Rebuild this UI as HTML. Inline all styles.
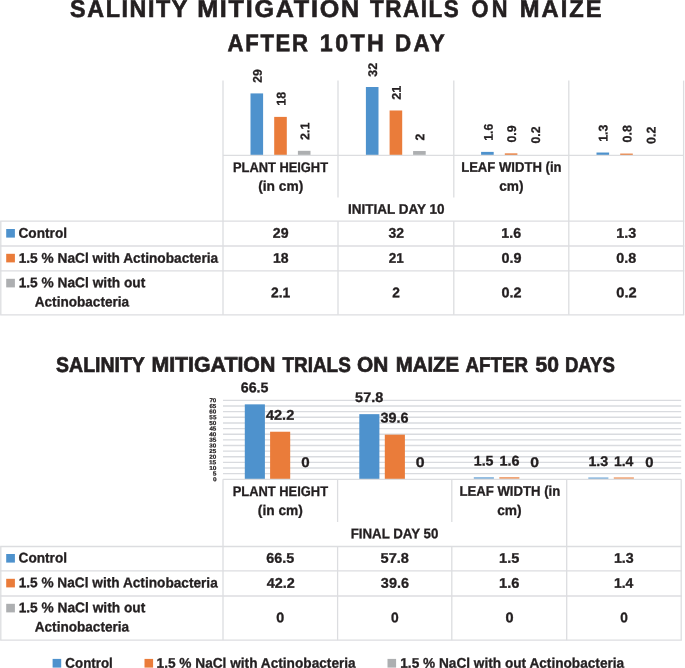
<!DOCTYPE html>
<html lang="en">
<head>
<meta charset="utf-8">
<title>Salinity mitigation trials on maize</title>
<style>
html,body{margin:0;padding:0;background:#fff;}
body{width:685px;height:668px;overflow:hidden;}
svg{display:block;}
svg text{font-family:'Liberation Sans', sans-serif;font-weight:bold;fill:#231f20;stroke:#231f20;}
</style>
</head>
<body>
<svg width="685" height="668" viewBox="0 0 685 668">
<rect width="685" height="668" fill="#ffffff"/>
<line x1="223.0" y1="80.61000000000001" x2="223.0" y2="314.8" stroke="#dcdde0" stroke-width="1.3"/>
<line x1="338.0" y1="80.61000000000001" x2="338.0" y2="197.4" stroke="#dcdde0" stroke-width="1.3"/>
<line x1="338.0" y1="221.2" x2="338.0" y2="314.8" stroke="#dcdde0" stroke-width="1.3"/>
<line x1="453.8" y1="80.61000000000001" x2="453.8" y2="197.4" stroke="#dcdde0" stroke-width="1.3"/>
<line x1="453.8" y1="221.2" x2="453.8" y2="314.8" stroke="#dcdde0" stroke-width="1.3"/>
<line x1="568.8" y1="80.61000000000001" x2="568.8" y2="314.8" stroke="#dcdde0" stroke-width="1.3"/>
<line x1="683.6" y1="80.61000000000001" x2="683.6" y2="314.8" stroke="#dcdde0" stroke-width="1.3"/>
<line x1="0.8" y1="221.2" x2="0.8" y2="314.8" stroke="#dcdde0" stroke-width="1.3"/>
<line x1="0.15" y1="221.2" x2="684.25" y2="221.2" stroke="#dcdde0" stroke-width="1.3"/>
<line x1="0.15" y1="246.0" x2="684.25" y2="246.0" stroke="#dcdde0" stroke-width="1.3"/>
<line x1="0.15" y1="270.9" x2="684.25" y2="270.9" stroke="#dcdde0" stroke-width="1.3"/>
<line x1="0.15" y1="314.8" x2="684.25" y2="314.8" stroke="#dcdde0" stroke-width="1.3"/>
<rect x="250.50" y="93.41" width="12.60" height="61.89" fill="#4e92cd"/>
<rect x="274.20" y="116.89" width="12.60" height="38.41" fill="#ea7c3a"/>
<rect x="297.90" y="150.82" width="12.60" height="4.48" fill="#adafb1"/>
<rect x="365.90" y="87.01" width="12.60" height="68.29" fill="#4e92cd"/>
<rect x="389.60" y="110.49" width="12.60" height="44.81" fill="#ea7c3a"/>
<rect x="413.10" y="151.03" width="12.60" height="4.27" fill="#adafb1"/>
<rect x="481.10" y="151.89" width="12.60" height="3.41" fill="#4e92cd"/>
<rect x="504.80" y="153.38" width="12.60" height="1.92" fill="#ea7c3a"/>
<rect x="596.50" y="152.53" width="12.60" height="2.77" fill="#4e92cd"/>
<rect x="620.20" y="153.59" width="12.60" height="1.71" fill="#ea7c3a"/>
<line x1="223.0" y1="155.3" x2="683.6" y2="155.3" stroke="#dcdde0" stroke-width="1.3"/>
<rect x="6.20" y="229.00" width="8.70" height="8.60" fill="#4e92cd"/>
<rect x="6.20" y="253.80" width="8.70" height="8.60" fill="#ea7c3a"/>
<rect x="6.20" y="278.80" width="8.70" height="8.60" fill="#adafb1"/>
<line x1="223.0" y1="473.66" x2="681.2" y2="473.66" stroke="#d9dbdf" stroke-width="1.4"/>
<line x1="223.0" y1="468.03" x2="681.2" y2="468.03" stroke="#d9dbdf" stroke-width="1.4"/>
<line x1="223.0" y1="462.39" x2="681.2" y2="462.39" stroke="#d9dbdf" stroke-width="1.4"/>
<line x1="223.0" y1="456.76" x2="681.2" y2="456.76" stroke="#d9dbdf" stroke-width="1.4"/>
<line x1="223.0" y1="451.12" x2="681.2" y2="451.12" stroke="#d9dbdf" stroke-width="1.4"/>
<line x1="223.0" y1="445.49" x2="681.2" y2="445.49" stroke="#d9dbdf" stroke-width="1.4"/>
<line x1="223.0" y1="439.85" x2="681.2" y2="439.85" stroke="#d9dbdf" stroke-width="1.4"/>
<line x1="223.0" y1="434.21" x2="681.2" y2="434.21" stroke="#d9dbdf" stroke-width="1.4"/>
<line x1="223.0" y1="428.58" x2="681.2" y2="428.58" stroke="#d9dbdf" stroke-width="1.4"/>
<line x1="223.0" y1="422.94" x2="681.2" y2="422.94" stroke="#d9dbdf" stroke-width="1.4"/>
<line x1="223.0" y1="417.31" x2="681.2" y2="417.31" stroke="#d9dbdf" stroke-width="1.4"/>
<line x1="223.0" y1="411.67" x2="681.2" y2="411.67" stroke="#d9dbdf" stroke-width="1.4"/>
<line x1="223.0" y1="406.04" x2="681.2" y2="406.04" stroke="#d9dbdf" stroke-width="1.4"/>
<line x1="223.0" y1="400.40" x2="681.2" y2="400.40" stroke="#d9dbdf" stroke-width="1.4"/>
<line x1="223.0" y1="479.3" x2="223.0" y2="640.2" stroke="#dcdde0" stroke-width="1.3"/>
<line x1="337.6" y1="479.3" x2="337.6" y2="522.0" stroke="#dcdde0" stroke-width="1.3"/>
<line x1="337.6" y1="546.5" x2="337.6" y2="640.2" stroke="#dcdde0" stroke-width="1.3"/>
<line x1="451.8" y1="479.3" x2="451.8" y2="522.0" stroke="#dcdde0" stroke-width="1.3"/>
<line x1="451.8" y1="546.5" x2="451.8" y2="640.2" stroke="#dcdde0" stroke-width="1.3"/>
<line x1="566.7" y1="479.3" x2="566.7" y2="640.2" stroke="#dcdde0" stroke-width="1.3"/>
<line x1="681.2" y1="479.3" x2="681.2" y2="640.2" stroke="#dcdde0" stroke-width="1.3"/>
<line x1="0.8" y1="546.5" x2="0.8" y2="640.2" stroke="#dcdde0" stroke-width="1.3"/>
<line x1="0.15" y1="546.5" x2="681.85" y2="546.5" stroke="#dcdde0" stroke-width="1.3"/>
<line x1="0.15" y1="570.9" x2="681.85" y2="570.9" stroke="#dcdde0" stroke-width="1.3"/>
<line x1="0.15" y1="596.0" x2="681.85" y2="596.0" stroke="#dcdde0" stroke-width="1.3"/>
<line x1="0.15" y1="640.2" x2="681.85" y2="640.2" stroke="#dcdde0" stroke-width="1.3"/>
<rect x="244.80" y="404.35" width="20.10" height="74.95" fill="#4e92cd"/>
<rect x="270.10" y="431.73" width="20.10" height="47.57" fill="#ea7c3a"/>
<rect x="359.30" y="414.15" width="20.10" height="65.15" fill="#4e92cd"/>
<rect x="384.80" y="434.67" width="20.10" height="44.63" fill="#ea7c3a"/>
<rect x="473.80" y="477.21" width="20.10" height="1.69" fill="#4e92cd" fill-opacity="0.75"/>
<rect x="499.30" y="477.10" width="20.10" height="1.80" fill="#ea7c3a" fill-opacity="0.75"/>
<rect x="588.30" y="477.43" width="20.10" height="1.47" fill="#4e92cd" fill-opacity="0.75"/>
<rect x="613.80" y="477.32" width="20.10" height="1.58" fill="#ea7c3a" fill-opacity="0.75"/>
<line x1="223.0" y1="479.3" x2="681.2" y2="479.3" stroke="#dcdde0" stroke-width="1.3"/>
<rect x="6.20" y="554.00" width="8.70" height="8.60" fill="#4e92cd"/>
<rect x="6.20" y="578.80" width="8.70" height="8.60" fill="#ea7c3a"/>
<rect x="6.20" y="603.80" width="8.70" height="8.60" fill="#adafb1"/>
<rect x="52.60" y="658.90" width="8.60" height="8.70" fill="#4e92cd"/>
<rect x="144.50" y="658.90" width="8.60" height="8.70" fill="#ea7c3a"/>
<rect x="387.50" y="658.90" width="8.60" height="8.70" fill="#adafb1"/>
<text transform="translate(70.12,16.90) rotate(0.03) scale(0.955,1)" stroke-width="0.63" font-size="24.4" textLength="122.74" lengthAdjust="spacing">SALINITY</text>
<text transform="translate(197.14,16.90) rotate(0.03) scale(1.03,1)" stroke-width="0.63" font-size="24.4" textLength="157.30" lengthAdjust="spacing">MITIGATION</text>
<text transform="translate(369.93,16.90) rotate(0.03) scale(0.919,1)" stroke-width="0.63" font-size="24.4" textLength="96.73" lengthAdjust="spacing">TRAILS</text>
<text transform="translate(471.48,16.90) rotate(0.03) scale(0.893,1)" stroke-width="0.63" font-size="24.4" textLength="40.39" lengthAdjust="spacing">ON</text>
<text transform="translate(519.86,16.90) rotate(0.03) scale(0.972,1)" stroke-width="0.63" font-size="24.4" textLength="84.17" lengthAdjust="spacing">MAIZE</text>
<text transform="translate(227.54,51.30) rotate(0.03) scale(0.907,1)" stroke-width="0.63" font-size="24.4" textLength="88.78" lengthAdjust="spacing">AFTER</text>
<text transform="translate(319.85,51.30) rotate(0.03) scale(0.955,1)" stroke-width="0.63" font-size="24.4" textLength="66.96" lengthAdjust="spacing">10TH</text>
<text transform="translate(395.02,51.30) rotate(0.03) scale(0.921,1)" stroke-width="0.63" font-size="24.4" textLength="54.04" lengthAdjust="spacing">DAY</text>
<text transform="translate(261.66,82.65) rotate(-89.97)" stroke-width="0.28" font-size="12.6" textLength="13.38" lengthAdjust="spacingAndGlyphs">29</text>
<text transform="translate(285.44,105.69) rotate(-89.97)" stroke-width="0.28" font-size="12.6" textLength="13.91" lengthAdjust="spacingAndGlyphs">18</text>
<text transform="translate(309.30,139.89) rotate(-89.97)" stroke-width="0.28" font-size="12.6" textLength="17.32" lengthAdjust="spacingAndGlyphs">2.1</text>
<text transform="translate(376.89,76.64) rotate(-89.97)" stroke-width="0.28" font-size="12.6" textLength="13.77" lengthAdjust="spacingAndGlyphs">32</text>
<text transform="translate(400.64,99.66) rotate(-89.97)" stroke-width="0.28" font-size="12.6" textLength="14.02" lengthAdjust="spacingAndGlyphs">21</text>
<text transform="translate(424.28,140.57) rotate(-89.97)" stroke-width="0.28" font-size="12.6" textLength="6.79" lengthAdjust="spacingAndGlyphs">2</text>
<text transform="translate(492.70,140.69) rotate(-89.97)" stroke-width="0.28" font-size="12.6" textLength="16.94" lengthAdjust="spacingAndGlyphs">1.6</text>
<text transform="translate(516.11,142.51) rotate(-89.97)" stroke-width="0.28" font-size="12.6" textLength="17.10" lengthAdjust="spacingAndGlyphs">0.9</text>
<text transform="translate(540.06,143.55) rotate(-89.97)" stroke-width="0.28" font-size="12.6" textLength="17.05" lengthAdjust="spacingAndGlyphs">0.2</text>
<text transform="translate(607.60,141.72) rotate(-89.97)" stroke-width="0.28" font-size="12.6" textLength="17.09" lengthAdjust="spacingAndGlyphs">1.3</text>
<text transform="translate(631.61,142.51) rotate(-89.97)" stroke-width="0.28" font-size="12.6" textLength="17.47" lengthAdjust="spacingAndGlyphs">0.8</text>
<text transform="translate(655.43,143.97) rotate(-89.97)" stroke-width="0.28" font-size="12.6" textLength="17.27" lengthAdjust="spacingAndGlyphs">0.2</text>
<text transform="translate(232.95,171.70) rotate(0.03)" stroke-width="0.31" font-size="14.0" textLength="95.05" lengthAdjust="spacingAndGlyphs">PLANT HEIGHT</text>
<text transform="translate(258.20,190.70) rotate(0.03)" stroke-width="0.31" font-size="14.0" textLength="45.12" lengthAdjust="spacingAndGlyphs">(in cm)</text>
<text transform="translate(461.13,171.70) rotate(0.03)" stroke-width="0.31" font-size="14.0" textLength="100.39" lengthAdjust="spacingAndGlyphs">LEAF WIDTH (in</text>
<text transform="translate(499.15,190.70) rotate(0.03)" stroke-width="0.31" font-size="14.0" textLength="24.32" lengthAdjust="spacingAndGlyphs">cm)</text>
<text transform="translate(347.92,213.80) rotate(0.03)" stroke-width="0.31" font-size="14.0" textLength="96.50" lengthAdjust="spacingAndGlyphs">INITIAL DAY 10</text>
<text transform="translate(18.51,237.80) rotate(0.03)" stroke-width="0.31" font-size="14.0" textLength="48.52" lengthAdjust="spacingAndGlyphs">Control</text>
<text transform="translate(18.70,262.70) rotate(0.03)" stroke-width="0.31" font-size="14.0" textLength="199.52" lengthAdjust="spacingAndGlyphs">1.5 % NaCl with Actinobacteria</text>
<text transform="translate(18.67,287.20) rotate(0.03)" stroke-width="0.31" font-size="14.0" textLength="126.56" lengthAdjust="spacingAndGlyphs">1.5 % NaCl with out</text>
<text transform="translate(34.77,306.50) rotate(0.03)" stroke-width="0.31" font-size="14.0" textLength="94.29" lengthAdjust="spacingAndGlyphs">Actinobacteria</text>
<text transform="translate(272.86,237.80) rotate(0.03)" stroke-width="0.31" font-size="14.0" textLength="15.73" lengthAdjust="spacingAndGlyphs">29</text>
<text transform="translate(388.54,237.80) rotate(0.03)" stroke-width="0.31" font-size="14.0" textLength="15.50" lengthAdjust="spacingAndGlyphs">32</text>
<text transform="translate(501.32,237.80) rotate(0.03)" stroke-width="0.31" font-size="14.0" textLength="19.77" lengthAdjust="spacingAndGlyphs">1.6</text>
<text transform="translate(616.36,237.80) rotate(0.03)" stroke-width="0.31" font-size="14.0" textLength="19.98" lengthAdjust="spacingAndGlyphs">1.3</text>
<text transform="translate(272.88,262.80) rotate(0.03)" stroke-width="0.31" font-size="14.0" textLength="15.62" lengthAdjust="spacingAndGlyphs">18</text>
<text transform="translate(388.68,262.80) rotate(0.03)" stroke-width="0.31" font-size="14.0" textLength="15.05" lengthAdjust="spacingAndGlyphs">21</text>
<text transform="translate(501.40,262.80) rotate(0.03)" stroke-width="0.31" font-size="14.0" textLength="20.02" lengthAdjust="spacingAndGlyphs">0.9</text>
<text transform="translate(616.31,262.80) rotate(0.03)" stroke-width="0.31" font-size="14.0" textLength="19.97" lengthAdjust="spacingAndGlyphs">0.8</text>
<text transform="translate(271.02,297.20) rotate(0.03)" stroke-width="0.31" font-size="14.0" textLength="19.32" lengthAdjust="spacingAndGlyphs">2.1</text>
<text transform="translate(392.28,297.20) rotate(0.03)" stroke-width="0.31" font-size="14.0" textLength="7.64" lengthAdjust="spacingAndGlyphs">2</text>
<text transform="translate(501.40,297.20) rotate(0.03)" stroke-width="0.31" font-size="14.0" textLength="20.03" lengthAdjust="spacingAndGlyphs">0.2</text>
<text transform="translate(616.32,297.20) rotate(0.03)" stroke-width="0.31" font-size="14.0" textLength="20.41" lengthAdjust="spacingAndGlyphs">0.2</text>
<text transform="translate(56.08,371.80) rotate(0.03)" stroke-width="0.68" font-size="21.2" textLength="88.74" lengthAdjust="spacingAndGlyphs">SALINITY</text>
<text transform="translate(151.43,371.80) rotate(0.03)" stroke-width="0.68" font-size="21.2" textLength="123.85" lengthAdjust="spacingAndGlyphs">MITIGATION</text>
<text transform="translate(282.41,371.80) rotate(0.03)" stroke-width="0.68" font-size="21.2" textLength="68.40" lengthAdjust="spacingAndGlyphs">TRIALS</text>
<text transform="translate(357.10,371.80) rotate(0.03)" stroke-width="0.68" font-size="21.2" textLength="31.21" lengthAdjust="spacingAndGlyphs">ON</text>
<text transform="translate(395.85,371.80) rotate(0.03)" stroke-width="0.68" font-size="21.2" textLength="63.27" lengthAdjust="spacingAndGlyphs">MAIZE</text>
<text transform="translate(465.49,371.80) rotate(0.03)" stroke-width="0.68" font-size="21.2" textLength="62.44" lengthAdjust="spacingAndGlyphs">AFTER</text>
<text transform="translate(535.51,371.80) rotate(0.03)" stroke-width="0.68" font-size="21.2" textLength="23.36" lengthAdjust="spacingAndGlyphs">50</text>
<text transform="translate(564.90,371.80) rotate(0.03)" stroke-width="0.68" font-size="21.2" textLength="50.02" lengthAdjust="spacingAndGlyphs">DAYS</text>
<text transform="translate(240.77,392.30) rotate(0.03)" stroke-width="0.31" font-size="14.0" textLength="27.70" lengthAdjust="spacingAndGlyphs">66.5</text>
<text transform="translate(265.96,419.70) rotate(0.03)" stroke-width="0.31" font-size="14.0" textLength="28.26" lengthAdjust="spacingAndGlyphs">42.2</text>
<text transform="translate(301.29,467.00) rotate(0.03)" stroke-width="0.31" font-size="14.0" textLength="8.42" lengthAdjust="spacingAndGlyphs">0</text>
<text transform="translate(355.11,402.00) rotate(0.03)" stroke-width="0.31" font-size="14.0" textLength="28.07" lengthAdjust="spacingAndGlyphs">57.8</text>
<text transform="translate(380.56,422.40) rotate(0.03)" stroke-width="0.31" font-size="14.0" textLength="28.05" lengthAdjust="spacingAndGlyphs">39.6</text>
<text transform="translate(415.70,467.00) rotate(0.03)" stroke-width="0.31" font-size="14.0" textLength="8.84" lengthAdjust="spacingAndGlyphs">0</text>
<text transform="translate(473.72,465.40) rotate(0.03)" stroke-width="0.31" font-size="14.0" textLength="19.81" lengthAdjust="spacingAndGlyphs">1.5</text>
<text transform="translate(499.40,465.40) rotate(0.03)" stroke-width="0.31" font-size="14.0" textLength="20.07" lengthAdjust="spacingAndGlyphs">1.6</text>
<text transform="translate(530.29,467.00) rotate(0.03)" stroke-width="0.31" font-size="14.0" textLength="8.76" lengthAdjust="spacingAndGlyphs">0</text>
<text transform="translate(588.40,466.00) rotate(0.03)" stroke-width="0.31" font-size="14.0" textLength="19.87" lengthAdjust="spacingAndGlyphs">1.3</text>
<text transform="translate(613.88,466.00) rotate(0.03)" stroke-width="0.31" font-size="14.0" textLength="19.49" lengthAdjust="spacingAndGlyphs">1.4</text>
<text transform="translate(645.34,467.00) rotate(0.03)" stroke-width="0.31" font-size="14.0" textLength="8.26" lengthAdjust="spacingAndGlyphs">0</text>
<text transform="translate(213.00,481.25) rotate(0.03)" stroke-width="0.23" font-size="5.8" textLength="3.61" lengthAdjust="spacingAndGlyphs">0</text>
<text transform="translate(212.69,475.61) rotate(0.03)" stroke-width="0.23" font-size="5.8" textLength="3.69" lengthAdjust="spacingAndGlyphs">5</text>
<text transform="translate(209.13,469.98) rotate(0.03)" stroke-width="0.23" font-size="5.8" textLength="7.26" lengthAdjust="spacingAndGlyphs">10</text>
<text transform="translate(208.95,464.34) rotate(0.03)" stroke-width="0.23" font-size="5.8" textLength="7.33" lengthAdjust="spacingAndGlyphs">15</text>
<text transform="translate(209.33,458.71) rotate(0.03)" stroke-width="0.23" font-size="5.8" textLength="7.00" lengthAdjust="spacingAndGlyphs">20</text>
<text transform="translate(209.34,453.07) rotate(0.03)" stroke-width="0.23" font-size="5.8" textLength="6.98" lengthAdjust="spacingAndGlyphs">25</text>
<text transform="translate(209.37,447.44) rotate(0.03)" stroke-width="0.23" font-size="5.8" textLength="6.95" lengthAdjust="spacingAndGlyphs">30</text>
<text transform="translate(209.17,441.80) rotate(0.03)" stroke-width="0.23" font-size="5.8" textLength="7.15" lengthAdjust="spacingAndGlyphs">35</text>
<text transform="translate(209.35,436.16) rotate(0.03)" stroke-width="0.23" font-size="5.8" textLength="6.99" lengthAdjust="spacingAndGlyphs">40</text>
<text transform="translate(209.42,430.53) rotate(0.03)" stroke-width="0.23" font-size="5.8" textLength="6.90" lengthAdjust="spacingAndGlyphs">45</text>
<text transform="translate(209.24,424.89) rotate(0.03)" stroke-width="0.23" font-size="5.8" textLength="7.09" lengthAdjust="spacingAndGlyphs">50</text>
<text transform="translate(209.36,419.26) rotate(0.03)" stroke-width="0.23" font-size="5.8" textLength="7.04" lengthAdjust="spacingAndGlyphs">55</text>
<text transform="translate(209.35,413.62) rotate(0.03)" stroke-width="0.23" font-size="5.8" textLength="7.00" lengthAdjust="spacingAndGlyphs">60</text>
<text transform="translate(209.44,407.99) rotate(0.03)" stroke-width="0.23" font-size="5.8" textLength="6.86" lengthAdjust="spacingAndGlyphs">65</text>
<text transform="translate(209.41,402.35) rotate(0.03)" stroke-width="0.23" font-size="5.8" textLength="6.88" lengthAdjust="spacingAndGlyphs">70</text>
<text transform="translate(232.75,495.80) rotate(0.03)" stroke-width="0.31" font-size="14.0" textLength="95.28" lengthAdjust="spacingAndGlyphs">PLANT HEIGHT</text>
<text transform="translate(257.83,514.90) rotate(0.03)" stroke-width="0.31" font-size="14.0" textLength="45.04" lengthAdjust="spacingAndGlyphs">(in cm)</text>
<text transform="translate(459.45,495.80) rotate(0.03)" stroke-width="0.31" font-size="14.0" textLength="100.78" lengthAdjust="spacingAndGlyphs">LEAF WIDTH (in</text>
<text transform="translate(497.17,514.90) rotate(0.03)" stroke-width="0.31" font-size="14.0" textLength="24.41" lengthAdjust="spacingAndGlyphs">cm)</text>
<text transform="translate(350.70,538.30) rotate(0.03)" stroke-width="0.31" font-size="14.0" textLength="87.60" lengthAdjust="spacingAndGlyphs">FINAL DAY 50</text>
<text transform="translate(18.59,562.60) rotate(0.03)" stroke-width="0.31" font-size="14.0" textLength="48.44" lengthAdjust="spacingAndGlyphs">Control</text>
<text transform="translate(18.65,587.30) rotate(0.03)" stroke-width="0.31" font-size="14.0" textLength="199.12" lengthAdjust="spacingAndGlyphs">1.5 % NaCl with Actinobacteria</text>
<text transform="translate(18.67,612.20) rotate(0.03)" stroke-width="0.31" font-size="14.0" textLength="126.56" lengthAdjust="spacingAndGlyphs">1.5 % NaCl with out</text>
<text transform="translate(34.77,631.40) rotate(0.03)" stroke-width="0.31" font-size="14.0" textLength="94.29" lengthAdjust="spacingAndGlyphs">Actinobacteria</text>
<text transform="translate(266.22,562.80) rotate(0.03)" stroke-width="0.31" font-size="14.0" textLength="27.91" lengthAdjust="spacingAndGlyphs">66.5</text>
<text transform="translate(380.58,562.80) rotate(0.03)" stroke-width="0.31" font-size="14.0" textLength="28.34" lengthAdjust="spacingAndGlyphs">57.8</text>
<text transform="translate(499.06,562.80) rotate(0.03)" stroke-width="0.31" font-size="14.0" textLength="20.19" lengthAdjust="spacingAndGlyphs">1.5</text>
<text transform="translate(613.93,562.80) rotate(0.03)" stroke-width="0.31" font-size="14.0" textLength="19.79" lengthAdjust="spacingAndGlyphs">1.3</text>
<text transform="translate(266.69,587.80) rotate(0.03)" stroke-width="0.31" font-size="14.0" textLength="28.06" lengthAdjust="spacingAndGlyphs">42.2</text>
<text transform="translate(380.85,587.80) rotate(0.03)" stroke-width="0.31" font-size="14.0" textLength="28.10" lengthAdjust="spacingAndGlyphs">39.6</text>
<text transform="translate(499.06,587.80) rotate(0.03)" stroke-width="0.31" font-size="14.0" textLength="20.39" lengthAdjust="spacingAndGlyphs">1.6</text>
<text transform="translate(613.89,587.80) rotate(0.03)" stroke-width="0.31" font-size="14.0" textLength="19.37" lengthAdjust="spacingAndGlyphs">1.4</text>
<text transform="translate(276.33,622.30) rotate(0.03)" stroke-width="0.31" font-size="14.0" textLength="7.96" lengthAdjust="spacingAndGlyphs">0</text>
<text transform="translate(390.97,622.30) rotate(0.03)" stroke-width="0.31" font-size="14.0" textLength="7.67" lengthAdjust="spacingAndGlyphs">0</text>
<text transform="translate(505.46,622.30) rotate(0.03)" stroke-width="0.31" font-size="14.0" textLength="8.06" lengthAdjust="spacingAndGlyphs">0</text>
<text transform="translate(620.18,622.30) rotate(0.03)" stroke-width="0.31" font-size="14.0" textLength="7.61" lengthAdjust="spacingAndGlyphs">0</text>
<text transform="translate(65.37,667.70) rotate(0.03)" stroke-width="0.31" font-size="14.0" textLength="47.37" lengthAdjust="spacingAndGlyphs">Control</text>
<text transform="translate(156.54,667.70) rotate(0.03)" stroke-width="0.31" font-size="14.0" textLength="199.18" lengthAdjust="spacingAndGlyphs">1.5 % NaCl with Actinobacteria</text>
<text transform="translate(400.26,667.70) rotate(0.03)" stroke-width="0.31" font-size="14.0" textLength="223.94" lengthAdjust="spacingAndGlyphs">1.5 % NaCl with out Actinobacteria</text>
</svg>
</body>
</html>
